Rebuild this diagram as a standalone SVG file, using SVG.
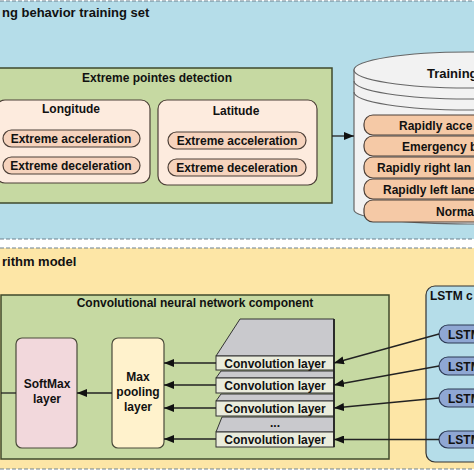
<svg xmlns="http://www.w3.org/2000/svg" width="474" height="474" viewBox="0 0 474 474">
<defs>
<marker id="ah" viewBox="0 0 10 8" refX="10" refY="4" markerWidth="10" markerHeight="8" markerUnits="userSpaceOnUse" orient="auto">
<path d="M0,0 L10,4 L0,8 Z" fill="#111"/>
</marker>
</defs>
<style>
text{font-family:"Liberation Sans",Arial,sans-serif;font-weight:bold;fill:#111}
.t12{font-size:12px}
.t13{font-size:13px}
.c{text-anchor:middle}
.dash{stroke:#6f8290;stroke-width:1.2;stroke-dasharray:4 2;fill:none}
.green{fill:#c6d9a2;stroke:#3f4a2c;stroke-width:1.5}
.peach{fill:#fdebde;stroke:#4d4038;stroke-width:1.2}
.pill{fill:#f6d3bd;stroke:#4d4038;stroke-width:1.2}
.tpill{fill:#f5c9a6;stroke:#4d4038;stroke-width:1.2}
.lpill{fill:#8fa7d3;stroke:#2d3a55;stroke-width:1.2}
.conv{fill:#eaecdc;stroke:#333;stroke-width:1}
.face{fill:#c9c9cd;stroke:#333;stroke-width:1}
.cyl{fill:#f2f2f2;stroke:#666;stroke-width:1.2}
.conn{stroke:#222;stroke-width:1.3;fill:none;marker-end:url(#ah)}
</style>
<rect x="0" y="0" width="474" height="474" fill="#ffffff"/>
<g id="panel-top">
<rect x="-5" y="1" width="484" height="238" fill="#b5dde9"/>
<line class="dash" x1="0" y1="1" x2="474" y2="1"/>
<line class="dash" x1="0" y1="239" x2="474" y2="239"/>
<text class="t13" x="2" y="17">ng behavior training set</text>
</g>
<g id="panel-bottom">
<rect x="-5" y="248" width="484" height="221" fill="#fde6a6"/>
<line class="dash" x1="0" y1="248" x2="474" y2="248"/>
<line class="dash" x1="0" y1="469" x2="474" y2="469"/>
<text class="t13" x="2" y="266">rithm model</text>
</g>
<g id="extreme-detection">
<rect class="green" x="-5" y="68" width="337" height="135"/>
<text class="t12 c" x="157" y="82">Extreme pointes detection</text>
</g>
<g id="longitude">
<rect class="peach" x="-4" y="100" width="154" height="83" rx="9"/>
<text class="t12 c" x="71" y="113">Longitude</text>
<rect class="pill" x="3" y="130" width="137" height="17" rx="8.5"/>
<text class="t12 c" x="71" y="143">Extreme acceleration</text>
<rect class="pill" x="3" y="157" width="137" height="17" rx="8.5"/>
<text class="t12 c" x="71" y="170">Extreme deceleration</text>
</g>
<g id="latitude">
<rect class="peach" x="158" y="100" width="159" height="85" rx="9"/>
<text class="t12 c" x="236" y="115">Latitude</text>
<rect class="pill" x="168" y="132" width="138" height="17" rx="8.5"/>
<text class="t12 c" x="237" y="145">Extreme acceleration</text>
<rect class="pill" x="168" y="159" width="138" height="17" rx="8.5"/>
<text class="t12 c" x="237" y="172">Extreme deceleration</text>
</g>
<g id="training-set">
<path class="cyl" d="M354,70 L354,210 A114,14 0 0 0 582,210 L582,70 Z"/>
<ellipse class="cyl" cx="468" cy="70" rx="114" ry="18"/>
<path class="cyl" fill="none" d="M354,81 A114,18 0 0 0 582,81" style="fill:none"/>
<path class="cyl" d="M354,92 A114,18 0 0 0 582,92" style="fill:none"/>
<text class="t13" x="427" y="78">Training</text>
<rect class="tpill" x="364" y="115" width="220" height="20" rx="9"/>
<text class="t12" x="399" y="130">Rapidly acce</text>
<rect class="tpill" x="364" y="136" width="220" height="20" rx="9"/>
<text class="t12" x="402" y="151">Emergency b</text>
<rect class="tpill" x="364" y="157" width="220" height="21" rx="9"/>
<text class="t12" x="377" y="172">Rapidly right lan</text>
<rect class="tpill" x="364" y="179" width="220" height="20" rx="9"/>
<text class="t12" x="383" y="194">Rapidly left lane</text>
<rect class="tpill" x="364" y="200" width="220" height="22" rx="9"/>
<text class="t12" x="436" y="216">Norma</text>
</g>
<g id="cnn">
<rect class="green" x="1" y="295" width="388" height="164"/>
<text class="t12 c" x="195" y="307">Convolutional neural network component</text>
</g>
<g id="softmax">
<rect x="16" y="338" width="61" height="110" rx="6" fill="#f2d8dc" stroke="#4a4a3a" stroke-width="1.2"/>
<text class="t12 c" x="47" y="388">SoftMax</text>
<text class="t12 c" x="47" y="403">layer</text>
</g>
<g id="maxpool">
<rect x="112" y="338" width="52" height="110" rx="6" fill="#fff2cc" stroke="#4a4a3a" stroke-width="1.2"/>
<text class="t12 c" x="138" y="381">Max</text>
<text class="t12 c" x="138" y="396">pooling</text>
<text class="t12 c" x="138" y="411">layer</text>
</g>
<g id="conv1">
<polygon class="face" points="216,356 240,319 334,319 334,356"/>
<rect class="conv" x="216" y="356" width="118" height="14"/>
<text class="t12 c" x="275" y="368">Convolution layer</text>
</g>
<g id="conv2">
<polygon class="face" points="216,378 221,371 334,371 334,378"/>
<rect class="conv" x="216" y="378" width="118" height="15"/>
<text class="t12 c" x="275" y="390">Convolution layer</text>
</g>
<g id="conv3">
<polygon class="face" points="216,401 221,394 334,394 334,401"/>
<rect class="conv" x="216" y="401" width="118" height="15"/>
<text class="t12 c" x="275" y="413">Convolution layer</text>
</g>
<g id="conv-dots">
<polygon class="face" points="216,432 222,417 334,417 334,432"/>
<text class="t12 c" x="275" y="427">...</text>
</g>
<g id="conv4">
<rect class="conv" x="216" y="432" width="118" height="15"/>
<text class="t12 c" x="275" y="444">Convolution layer</text>
</g>
<line x1="334" y1="319" x2="334" y2="447" stroke="#222" stroke-width="1.8"/>
<g id="lstm">
<rect x="426" y="286" width="100" height="176" rx="9" fill="#b5dde9" stroke="#333" stroke-width="1.2"/>
<text class="t12" x="430" y="300">LSTM c</text>
<rect class="lpill" x="439" y="325" width="80" height="18" rx="9"/>
<text class="t12" x="448" y="339">LSTM</text>
<rect class="lpill" x="439" y="357" width="80" height="18" rx="9"/>
<text class="t12" x="448" y="371">LSTM</text>
<rect class="lpill" x="439" y="389" width="80" height="18" rx="9"/>
<text class="t12" x="448" y="403">LSTM</text>
<rect class="lpill" x="439" y="431" width="80" height="17" rx="9"/>
<text class="t12" x="448" y="444">LSTM</text>
</g>
<g id="connectors">
<line class="conn" x1="332" y1="136" x2="354" y2="136"/>
<line class="conn" x1="112" y1="393" x2="77" y2="393"/>
<line x1="16" y1="393" x2="1" y2="393" stroke="#222" stroke-width="1.3"/>
<line class="conn" x1="216" y1="363" x2="164" y2="363"/>
<line class="conn" x1="216" y1="385" x2="164" y2="385"/>
<line class="conn" x1="216" y1="408" x2="164" y2="408"/>
<line class="conn" x1="216" y1="439" x2="164" y2="439"/>
<line class="conn" x1="439" y1="334" x2="334" y2="363"/>
<line class="conn" x1="439" y1="366" x2="334" y2="385"/>
<line class="conn" x1="439" y1="398" x2="334" y2="408"/>
<line class="conn" x1="439" y1="439.5" x2="334" y2="439.5"/>
</g>
</svg>
